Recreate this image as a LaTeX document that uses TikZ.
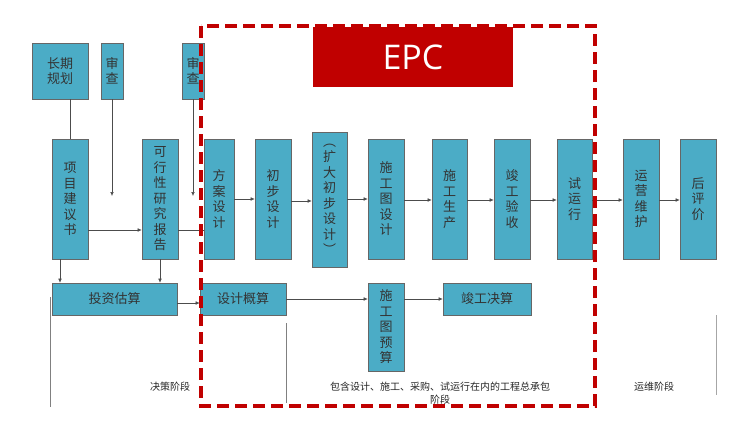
\documentclass[tikz,border=0pt]{standalone}
\usepackage{fontspec}
\newfontfamily\cjk{Noto Sans CJK SC}
\usetikzlibrary{arrows.meta}
\definecolor{boxc}{HTML}{4BACC6}
\definecolor{epcred}{HTML}{C00000}
\tikzset{
  bx/.style={draw=gray!80!black,line width=0.6pt,fill=boxc,inner sep=0pt,font=\cjk\fontsize{13}{15.5}\selectfont,text=black!80,align=center},
  ar/.style={draw=black!70,line width=0.5pt,-{Latex[length=4pt,width=3.5pt]}},
  ln/.style={draw=black!70,line width=0.5pt},
  lbl/.style={font=\cjk\fontsize{10}{12}\selectfont,text=black!85}
}
\newcommand{\bxat}[6]{\node[bx,minimum width=#4-#2,minimum height=#5-#3] (#1) at ({(#2+#4)/2},{(#3+#5)/2}) {#6};}
\begin{document}
\begin{tikzpicture}[x=1pt,y=-1pt]
\useasboundingbox (0,0) rectangle (750,428);
\fill[white] (0,0) rectangle (750,428);
\bxat{cq}{32}{43}{88}{99}{长期\\规划}
\bxat{sc1}{101}{43}{123}{99}{审\\查}
\bxat{sc2}{182}{43}{204}{99}{审\\查}
\bxat{xm}{52}{139}{88}{259}{项\\目\\建\\议\\书}
\bxat{kx}{142}{139}{178}{259}{可\\行\\性\\研\\究\\报\\告}
\bxat{fa}{204}{139}{234}{259}{方\\案\\设\\计}
\bxat{cb}{255}{139}{291}{259}{初\\步\\设\\计}
\bxat{kd}{312}{132}{347}{267}{︵\\扩\\大\\初\\步\\设\\计\\︶}
\bxat{sg}{368}{139}{404}{259}{施\\工\\图\\设\\计}
\bxat{sc}{432}{139}{467}{259}{施\\工\\生\\产}
\bxat{ys}{494}{139}{530}{259}{竣\\工\\验\\收}
\bxat{sy}{557}{139}{592}{259}{试\\运\\行}
\bxat{yy}{623}{139}{659}{259}{运\\营\\维\\护}
\bxat{hp}{680}{139}{716}{259}{后\\评\\价}
\bxat{tz}{52}{283}{177}{315}{投资估算}
\bxat{gs}{200}{283}{286}{315}{设计概算}
\bxat{ys2}{368}{283}{404}{371}{施\\工\\图\\预\\算}
\bxat{js}{443}{283}{531}{315}{竣工决算}
% connectors
\draw[ln] (cq.south -| 70,0) -- (xm.north -| 70,0);
\draw[ar] (sc1.south) -- (112,196);
\draw[ar] (sc2.south) -- (193,196);
\draw[ar] (xm.east |- 0,230) -- (kx.west |- 0,230);
\draw[ln] (kx.east |- 0,230) -- (fa.west |- 0,230);
\draw[ar] (fa.east |- 0,199) -- (cb.west |- 0,199);
\draw[ar] (cb.east |- 0,201) -- (kd.west |- 0,201);
\draw[ar] (kd.east |- 0,199) -- (sg.west |- 0,199);
\draw[ar] (sg.east |- 0,200) -- (sc.west |- 0,200);
\draw[ar] (sc.east |- 0,200) -- (ys.west |- 0,200);
\draw[ar] (ys.east |- 0,200) -- (sy.west |- 0,200);
\draw[ar] (sy.east |- 0,200) -- (yy.west |- 0,200);
\draw[ar] (yy.east |- 0,200) -- (hp.west |- 0,200);
\draw[ar] (xm.south -| 60,0) -- (tz.north -| 60,0);
\draw[ar] (kx.south -| 160,0) -- (tz.north -| 160,0);
\draw[ar] (tz.east |- 0,303) -- (gs.west |- 0,303);
\draw[ar] (gs.east |- 0,299) -- (ys2.west |- 0,299);
\draw[ar] (ys2.east |- 0,299) -- (js.west |- 0,299);
% gray separators
\draw[gray,line width=0.6pt] (50,297) -- (50,407);
\draw[gray,line width=0.6pt] (286,323) -- (286,403);
\draw[gray!70,line width=0.6pt] (716,315) -- (716,395);
% labels
\node[lbl] (l1) at (170,387) {决策阶段};
\node[lbl,align=center,font=\cjk\fontsize{10}{13}\selectfont] (l2) at (440,393) {包含设计、施工、采购、试运行在内的工程总承包\\阶段};
\node[lbl] (l3) at (654,387) {运维阶段};
% EPC
\node[fill=epcred,minimum width=200,minimum height=60,inner sep=0pt,text=white,font=\fontspec{Open Sans}\fontsize{34}{36}\selectfont] (epc) at (413,57) {EPC};
\draw[epcred,line width=3.5pt,dash pattern=on 12pt off 6pt] (201,26) rectangle (595,406);
\end{tikzpicture}
\end{document}
